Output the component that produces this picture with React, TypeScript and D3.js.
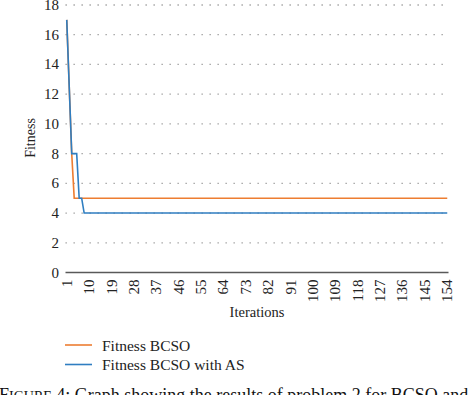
import React from "react";
import * as d3 from "d3";

// iterations 1..154
const iterations: number[] = d3.range(1, 155);

const tickIterations: number[] = [1, 10, 19, 28, 37, 46, 55, 64, 73, 82, 91, 100, 109, 118, 127, 136, 145, 154];

const yTicks: number[] = [0, 2, 4, 6, 8, 10, 12, 14, 16, 18];

const fitnessBCSO: number[] = [
  17, 12.5, 8, 5, 5, 5, 5, 5, 5, 5, 5, 5, 5, 5, 5, 5, 5, 5, 5, 5,
  5, 5, 5, 5, 5, 5, 5, 5, 5, 5, 5, 5, 5, 5, 5, 5, 5, 5, 5, 5,
  5, 5, 5, 5, 5, 5, 5, 5, 5, 5, 5, 5, 5, 5, 5, 5, 5, 5, 5, 5,
  5, 5, 5, 5, 5, 5, 5, 5, 5, 5, 5, 5, 5, 5, 5, 5, 5, 5, 5, 5,
  5, 5, 5, 5, 5, 5, 5, 5, 5, 5, 5, 5, 5, 5, 5, 5, 5, 5, 5, 5,
  5, 5, 5, 5, 5, 5, 5, 5, 5, 5, 5, 5, 5, 5, 5, 5, 5, 5, 5, 5,
  5, 5, 5, 5, 5, 5, 5, 5, 5, 5, 5, 5, 5, 5, 5, 5, 5, 5, 5, 5,
  5, 5, 5, 5, 5, 5, 5, 5, 5, 5, 5, 5, 5, 5,
];

const fitnessBCSOWithAS: number[] = [
  17, 12.5, 8, 8, 8, 5, 5, 4, 4, 4, 4, 4, 4, 4, 4, 4, 4, 4, 4, 4,
  4, 4, 4, 4, 4, 4, 4, 4, 4, 4, 4, 4, 4, 4, 4, 4, 4, 4, 4, 4,
  4, 4, 4, 4, 4, 4, 4, 4, 4, 4, 4, 4, 4, 4, 4, 4, 4, 4, 4, 4,
  4, 4, 4, 4, 4, 4, 4, 4, 4, 4, 4, 4, 4, 4, 4, 4, 4, 4, 4, 4,
  4, 4, 4, 4, 4, 4, 4, 4, 4, 4, 4, 4, 4, 4, 4, 4, 4, 4, 4, 4,
  4, 4, 4, 4, 4, 4, 4, 4, 4, 4, 4, 4, 4, 4, 4, 4, 4, 4, 4, 4,
  4, 4, 4, 4, 4, 4, 4, 4, 4, 4, 4, 4, 4, 4, 4, 4, 4, 4, 4, 4,
  4, 4, 4, 4, 4, 4, 4, 4, 4, 4, 4, 4, 4, 4,
];

const seriesNames: string[] = ["Fitness BCSO", "Fitness BCSO with AS"];
const seriesColors: string[] = ["#ED7D31", "#2F7EC1"];

const font = "'Liberation Serif', 'DejaVu Serif', serif";

const App: React.FC = () => {
  const width = 474;
  const height = 395;
  const left = 65.5;
  const right = 448.5;
  const top = 5;
  const bottom = 272.5;

  const x = d3.scaleBand<number>().domain(iterations).range([left, right]);
  const cx = (i: number) => (x(i) ?? 0) + x.bandwidth() / 2;
  const y = d3.scaleLinear().domain([0, 18]).range([bottom, top]);

  const line = d3
    .line<number>()
    .x((_, i) => cx(iterations[i]))
    .y((d) => y(d));

  const series = [fitnessBCSO, fitnessBCSOWithAS];

  return (
    <svg
      width={width}
      height={height}
      style={{ position: "absolute", left: 0, top: 0, background: "#fff" }}
      fontFamily={font}
    >
      {yTicks.filter((t) => t > 0).map((t) => (
        <line
          key={"g" + t}
          x1={left}
          x2={right}
          y1={y(t)}
          y2={y(t)}
          stroke="#9a9a9a"
          strokeWidth={1.3}
          strokeDasharray="1.3 6.7"
        />
      ))}
      {yTicks.map((t) => (
        <text key={"y" + t} x={59} y={y(t)} textAnchor="end" dominantBaseline="central" fontSize={15} fill="#222">
          {t}
        </text>
      ))}
      <line x1={left} x2={right} y1={y(0)} y2={y(0)} stroke="#595959" strokeWidth={1.6} />
      {tickIterations.map((t) => (
        <text
          key={"x" + t}
          transform={`translate(${cx(t)},${bottom + 7}) rotate(-90)`}
          textAnchor="end"
          dominantBaseline="central"
          fontSize={15}
          fill="#222"
        >
          {t}
        </text>
      ))}
      {series.map((s, k) => (
        <path key={"s" + k} d={line(s) ?? ""} fill="none" stroke={seriesColors[k]} strokeWidth={1.6} />
      ))}
      <text transform={`translate(35,138) rotate(-90)`} textAnchor="middle" fontSize={14} fill="#222">
        Fitness
      </text>
      <text x={(left + right) / 2} y={317} textAnchor="middle" fontSize={14.5} fill="#222">
        Iterations
      </text>
      {seriesNames.map((n, k) => (
        <g key={"l" + k} transform={`translate(65,${345 + k * 19.5})`}>
          <line x1={0} x2={27} y1={0} y2={0} stroke={seriesColors[k]} strokeWidth={1.6} />
          <text x={37} y={0} dominantBaseline="central" fontSize={15.5} fill="#222">
            {n}
          </text>
        </g>
      ))}
      <text x={-1} y={400.5} fontSize={18} fill="#111">
        F<tspan fontSize={14}>IGURE</tspan> 4: Graph showing the results of problem 2 for BCSO and
      </text>
    </svg>
  );
};

export default App;
